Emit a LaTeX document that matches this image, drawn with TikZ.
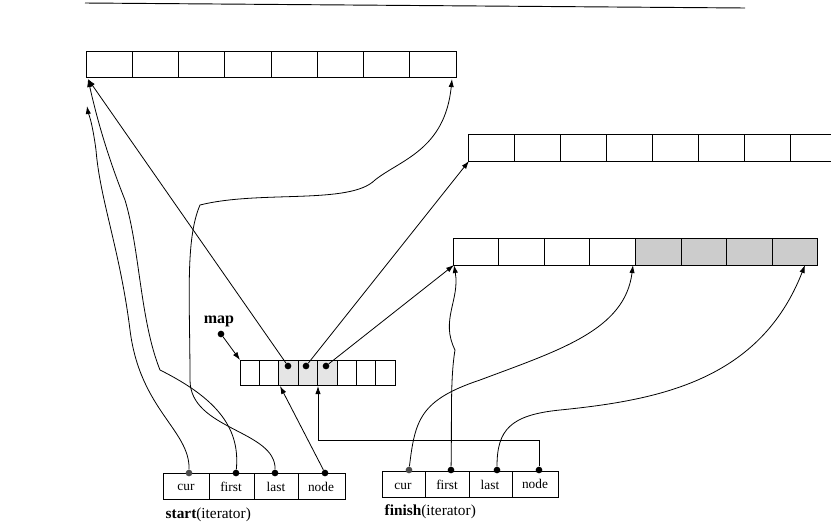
\documentclass[tikz,border=0pt]{standalone}
\usepackage{fontspec}
\setmainfont{Liberation Serif}
\usetikzlibrary{arrows.meta}
\begin{document}
\begin{tikzpicture}[x=0.75pt,y=-0.75pt,font=\fontsize{10}{12}\selectfont,
  cell/.style={draw,line width=0.6pt},
  arr/.style={-{Latex[length=6pt,width=4pt]},line width=0.6pt},
  dot/.style={circle,fill=black,inner sep=0pt,minimum size=5pt}]
\useasboundingbox (0,0) rectangle (831,525);
\draw[line width=0.7pt] (85,3) -- (745,8);
% buffer 1
\foreach \i in {0,...,7}{\draw[cell] (86+\i*46.25,51) rectangle (86+\i*46.25+46.25,77);}
\coordinate (b1l) at (88,79); \coordinate (b1r) at (452,79);
% buffer 2
\begin{scope}
\clip (460,120) rectangle (831,170);
\foreach \i in {0,...,7}{\draw[cell] (468+\i*46,134) rectangle (468+\i*46+46,161);}
\end{scope}
\coordinate (b2l) at (469,161);
% buffer 3
\foreach \i in {0,...,7}{
  \ifnum\i>3 \def\fc{gray!40}\else\def\fc{white}\fi
  \draw[cell,fill=\fc] (453+\i*45.6,238) rectangle (453+\i*45.6+45.6,265);}
\coordinate (b3l) at (454,265); \coordinate (b3h) at (633,265); \coordinate (b3r) at (805,265);
% map
\foreach \i in {0,...,7}{
  \ifnum\i>1 \ifnum\i<5 \def\fc{gray!20}\else\def\fc{white}\fi\else\def\fc{white}\fi
  \draw[cell,fill=\fc] (240+\i*19.4,360) rectangle (240+\i*19.4+19.4,385);}
\node[dot] (m3) at (288,366) {};
\node[dot] (m4) at (306,366) {};
\node[dot] (m5) at (326,366) {};
\coordinate (mapTL) at (240,360);
\coordinate (mb3) at (280,386); \coordinate (mb5) at (318,386);
\node[dot] (mapd) at (221,334) {};
\node[font=\fontsize{12}{14}\selectfont\bfseries,anchor=south] (maplbl) at (219,332) {map};
\draw[arr] (mapd) -- (mapTL);
\draw[arr] (m3) -- (b1l);
\draw[arr] (m4) -- (b2l);
\draw[arr] (m5) -- (b3l);
% start iterator
\draw[cell] (163,473) rectangle (345,499);
\foreach \x in {209,254,298}{\draw[cell] (\x,473)--(\x,499);}
\node (sc) at (186,487) {cur}; \node (sf) at (231,487) {first};
\node (sl) at (276,487) {last}; \node (sn) at (321,487) {node};
\node[dot,fill=black!70] (scd) at (189,473) {};
\node[dot] (sfd) at (236,473) {};
\node[dot] (sld) at (275,473) {};
\node[dot] (snd) at (325,473) {};
\node[anchor=west,font=\fontsize{11.5}{13}\selectfont] (slbl) at (161,515) {\textbf{start}(iterator)};
% finish iterator
\draw[cell] (382,471) rectangle (558,497);
\foreach \x in {425,469,512}{\draw[cell] (\x,471)--(\x,497);}
\node (fc) at (403,486) {cur}; \node (ff) at (447,485) {first};
\node (fl) at (490,485) {last}; \node (fn) at (535,484) {node};
\node[dot,fill=black!70] (fcd) at (409,470) {};
\node[dot] (ffd) at (451,470) {};
\node[dot] (fld) at (497,470) {};
\node[dot] (fnd) at (539,470) {};
\node[anchor=west,font=\fontsize{11.5}{13}\selectfont] (flbl) at (380,512) {\textbf{finish}(iterator)};
% connectors
\draw[arr] (snd) -- (mb3);
\draw[arr] (fnd) -- (539,440) -- (318,440) -- (mb5);
\draw[arr] (scd) .. controls (190,430) and (140,410) .. (130,330)
  .. controls (120,250) and (100,200) .. (96,150) .. controls (92,120) and (88,112) .. (87,106);
\draw[arr] (sfd) .. controls (240,430) and (220,400) .. (160,370)
  .. controls (140,320) and (140,250) .. (125,200) .. controls (105,150) and (95,110) .. (b1l);
\draw[arr] (sld) .. controls (276,430) and (190,430) .. (190,380)
  .. controls (190,300) and (185,240) .. (200,205) .. controls (260,190) and (350,205) .. (375,180)
  .. controls (400,160) and (445,150) .. (b1r);
\draw[arr] (fcd) .. controls (415,420) and (420,400) .. (480,380)
  .. controls (560,350) and (625,330) .. (b3h);
\draw[arr] (ffd) .. controls (452,420) and (450,380) .. (455,350)
  .. controls (440,320) and (460,300) .. (b3l);
\draw[arr] (fld) .. controls (497,430) and (510,415) .. (560,410)
  .. controls (660,400) and (760,380) .. (b3r);
\end{tikzpicture}
\end{document}
